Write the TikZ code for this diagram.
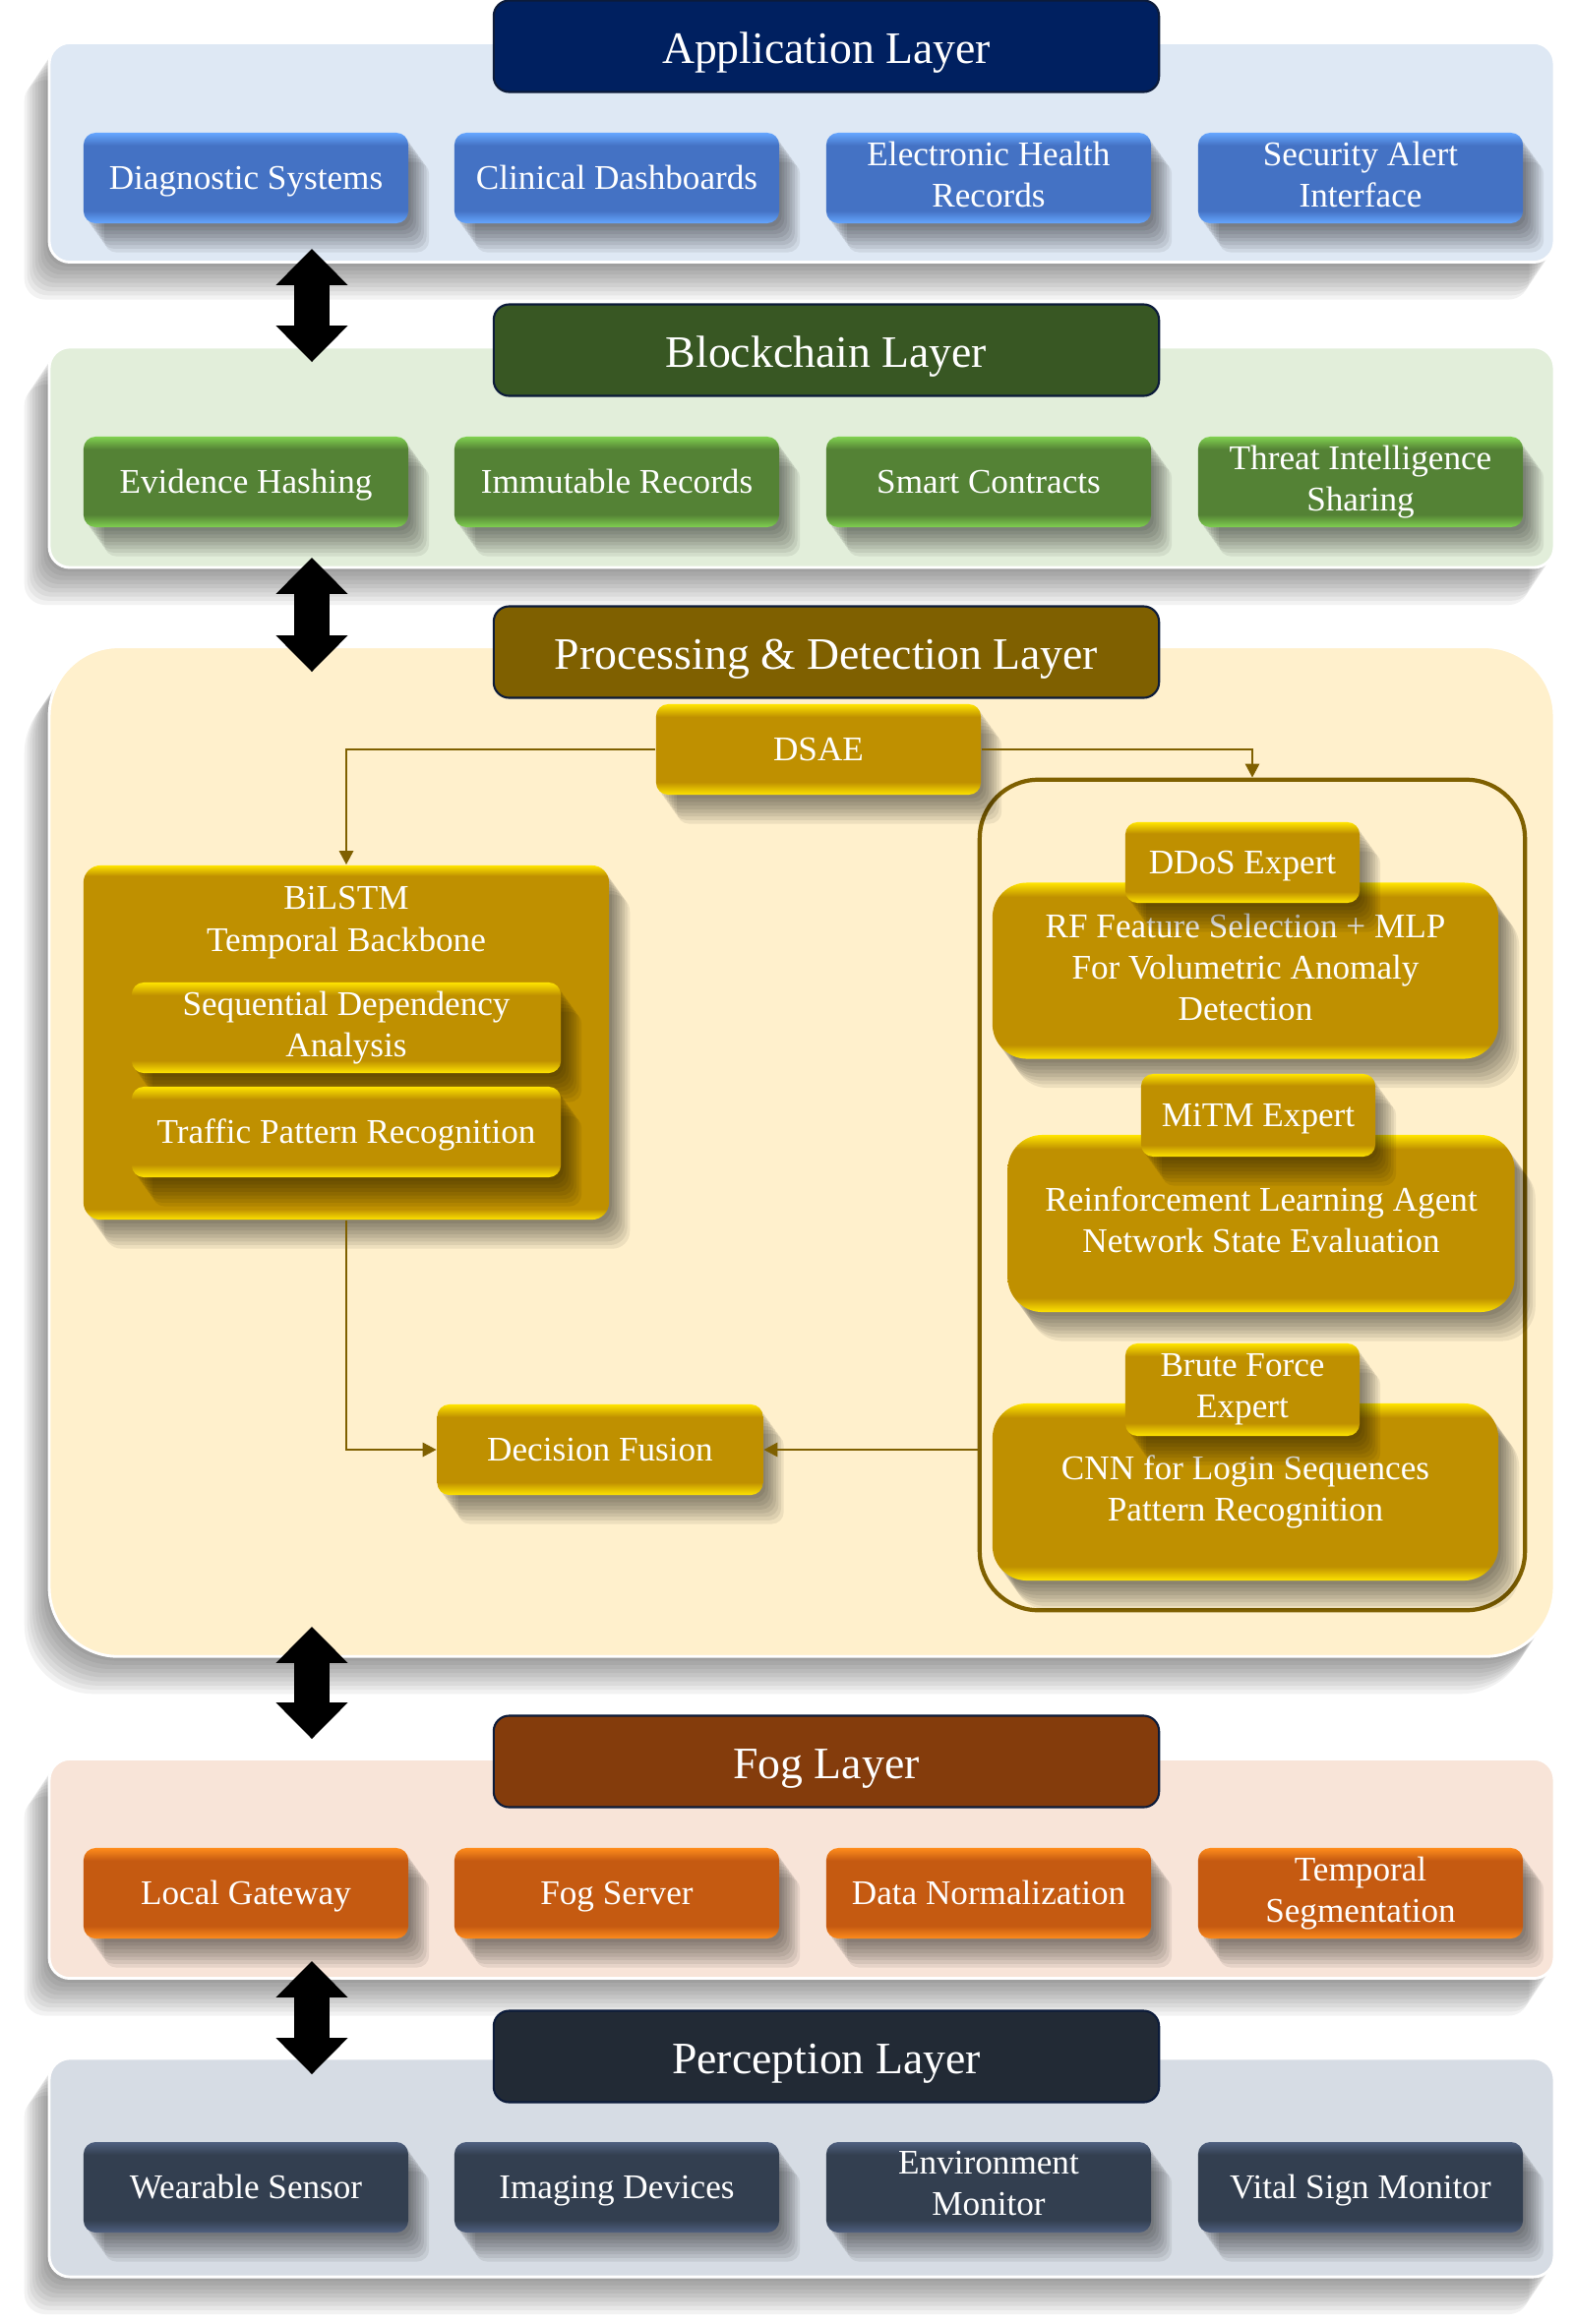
\documentclass[tikz,border=0pt]{standalone}
\usepackage{fontspec}
\setmainfont{Liberation Serif}
\usetikzlibrary{arrows.meta,shadows}

\definecolor{apptitle}{HTML}{002060}
\definecolor{appback}{HTML}{DEE8F4}
\definecolor{appbox}{HTML}{4472C4}
\definecolor{appedge}{HTML}{66A6FF}
\definecolor{bcctitle}{HTML}{385723}
\definecolor{bccback}{HTML}{E2EEDA}
\definecolor{bccbox}{HTML}{548235}
\definecolor{bccedge}{HTML}{80D050}
\definecolor{proctitle}{HTML}{7F6000}
\definecolor{procback}{HTML}{FFF0CC}
\definecolor{procbox}{HTML}{BF9000}
\definecolor{procedge}{HTML}{FFE400}
\definecolor{fogtitle}{HTML}{843C0C}
\definecolor{fogback}{HTML}{F8E4D8}
\definecolor{fogbox}{HTML}{C55A11}
\definecolor{fogedge}{HTML}{FF8C1C}
\definecolor{pertitle}{HTML}{222A35}
\definecolor{perback}{HTML}{D6DCE4}
\definecolor{perbox}{HTML}{333F50}
\definecolor{peredge}{HTML}{4F6080}
\definecolor{titleline}{HTML}{0C1B3A}
\colorlet{glosstop}{appedge}
\colorlet{glossmid}{appbox}

\pgfdeclareverticalshading[glosstop,glossmid]{gloss}{100bp}{color(0bp)=(glosstop); color(25bp)=(glosstop); color(32bp)=(glossmid); color(68bp)=(glossmid); color(75bp)=(glosstop); color(100bp)=(glosstop)}
\pgfdeclareverticalshading[glosstop,glossmid]{glossmed}{100bp}{color(0bp)=(glosstop); color(25bp)=(glosstop); color(29bp)=(glossmid); color(71bp)=(glossmid); color(75bp)=(glosstop); color(100bp)=(glosstop)}
\pgfdeclareverticalshading[glosstop,glossmid]{glosstall}{100bp}{color(0bp)=(glosstop); color(25bp)=(glosstop); color(26.5bp)=(glossmid); color(73.5bp)=(glossmid); color(75bp)=(glosstop); color(100bp)=(glosstop)}

\tikzset{
  glossy/.style 2 args={/utils/exec={\colorlet{glosstop}{#1}\colorlet{glossmid}{#2}}, shading=gloss},
  boxstep/.style={general shadow={fill=black, opacity=0.07, shadow xshift=#1*0.75pt, shadow yshift=-#1*1.05pt}},
  panelstep/.style={general shadow={fill=black, opacity=0.05, shadow xshift=-#1*0.8pt, shadow yshift=-#1*1.2pt}},
  layerpanel/.style={rounded corners=6pt, draw=white, line width=0.8pt, minimum width=15.29cm,
    panelstep/.list={1,...,9}},
  layertitle/.style={rounded corners=4.5pt, draw=titleline, line width=0.6pt, minimum width=6.76cm,
    minimum height=0.93cm, inner sep=0pt, text height=10pt, text depth=0pt, text=white,
    font=\fontsize{13}{15}\selectfont},
  unitbox/.style={rounded corners=3.5pt, minimum width=3.3cm, minimum height=0.92cm, inner sep=0pt,
    text=white, align=center, boxstep/.list={1,...,8},
    execute at begin node={\rule{0pt}{9pt}}, execute at end node={\rule[-2.2pt]{0pt}{0pt}}},
  flow/.style={draw=proctitle, line width=0.8pt, -{Triangle[length=4pt,width=4pt]}},
  bigarrow/.style={draw=black, line width=10.5pt,
    {Triangle[width=20.8pt,length=10.5pt,line width=0pt]}-{Triangle[width=20.8pt,length=10.5pt,line width=0pt]}}
}

\begin{document}
\begin{tikzpicture}[x=0.01cm, y=-0.01cm, font=\fontsize{10}{12}\selectfont]
  \useasboundingbox (0,0) rectangle (1600,2363);

  \node[layerpanel, fill=appback, minimum height=2.23cm] (apppanel) at (815,155) {};
  \node[layerpanel, fill=bccback, minimum height=2.24cm] (bccpanel) at (815,465) {};
  \node[layerpanel, fill=procback, minimum height=10.26cm, rounded corners=20pt] (procpanel) at (815,1171) {};
  \node[layerpanel, fill=fogback, minimum height=2.23cm] (fogpanel) at (815,1900) {};
  \node[layerpanel, fill=perback, minimum height=2.22cm] (perpanel) at (815,2204) {};

  \node[layertitle, fill=apptitle] (app) at (840,47) {Application Layer};
  \node[layertitle, fill=bcctitle] (bcc) at (840,356) {Blockchain Layer};
  \node[layertitle, fill=proctitle] (proc) at (840,663) {Processing \& Detection Layer};
  \node[layertitle, fill=fogtitle] (fog) at (840,1791) {Fog Layer};
  \node[layertitle, fill=pertitle] (per) at (840,2091) {Perception Layer};

  \begin{scope}[every node/.append style={unitbox, glossy={appedge}{appbox}}]
    \node (app1) at (250,181) {Diagnostic Systems};
    \node (app2) at (627,181) {Clinical Dashboards};
    \node (app3) at (1005,181) {Electronic Health\\Records};
    \node (app4) at (1383,181) {Security Alert\\Interface};
  \end{scope}
  \begin{scope}[every node/.append style={unitbox, glossy={bccedge}{bccbox}}]
    \node (bcc1) at (250,490) {Evidence Hashing};
    \node (bcc2) at (627,490) {Immutable Records};
    \node (bcc3) at (1005,490) {Smart Contracts};
    \node (bcc4) at (1383,490) {Threat Intelligence\\Sharing};
  \end{scope}
  \begin{scope}[every node/.append style={unitbox, glossy={fogedge}{fogbox}}]
    \node (fog1) at (250,1925) {Local Gateway};
    \node (fog2) at (627,1925) {Fog Server};
    \node (fog3) at (1005,1925) {Data Normalization};
    \node (fog4) at (1383,1925) {Temporal\\Segmentation};
  \end{scope}
  \begin{scope}[every node/.append style={unitbox, glossy={peredge}{perbox}}]
    \node (per1) at (250,2224) {Wearable Sensor};
    \node (per2) at (627,2224) {Imaging Devices};
    \node (per3) at (1005,2224) {Environment\\Monitor};
    \node (per4) at (1383,2224) {Vital Sign Monitor};
  \end{scope}

  \node[draw=proctitle, line width=1.2pt, rounded corners=17pt, minimum width=5.54cm,
    minimum height=8.44cm] (experts) at (1273,1215) {};
  \node[unitbox, glossy={procedge}{procbox}, shading=glosstall, minimum width=5.34cm,
    minimum height=3.6cm, rounded corners=5pt,
    label={[anchor=north, yshift=-0.1cm, text=white, align=center]north:BiLSTM\\Temporal Backbone}]
    (bilstm) at (352,1060) {};
  \begin{scope}[every node/.append style={unitbox, glossy={procedge}{procbox}}]
    \node (dsae) at (832,762) {DSAE};
    \node[minimum width=4.36cm] (seq) at (352,1045) {Sequential Dependency\\Analysis};
    \node[minimum width=4.36cm] (traffic) at (352,1151) {Traffic Pattern Recognition};
    \node[minimum width=3.31cm] (fusion) at (610,1474) {Decision Fusion};
    \node[shading=glossmed, rounded corners=10pt, minimum width=5.14cm, minimum height=1.79cm]
      (ddos) at (1266,987) {RF Feature Selection + MLP\\For Volumetric Anomaly\\Detection};
    \node[minimum width=2.38cm, minimum height=0.82cm] (ddostab) at (1263,877) {DDoS Expert};
    \node[shading=glossmed, rounded corners=10pt, minimum width=5.15cm, minimum height=1.8cm]
      (mitm) at (1282,1244) {Reinforcement Learning Agent\\Network State Evaluation};
    \node[minimum width=2.38cm, minimum height=0.84cm] (mitmtab) at (1279,1134) {MiTM Expert};
    \node[shading=glossmed, rounded corners=10pt, minimum width=5.14cm, minimum height=1.8cm]
      (brute) at (1266,1517) {CNN for Login Sequences\\Pattern Recognition};
    \node[minimum width=2.38cm, minimum height=0.94cm] (brutetab) at (1263,1413) {Brute Force\\Expert};
  \end{scope}

  \begin{scope}[flow]
    \draw (dsae.west) -| (bilstm.north);
    \draw (dsae.east) -| (experts.north);
    \draw (bilstm.south) |- (fusion.west);
    \draw (experts.west |- fusion.east) -- (fusion.east);
  \end{scope}

  \coordinate (up1) at (317,253);  \coordinate (dn1) at (317,368);
  \coordinate (up2) at (317,567);  \coordinate (dn2) at (317,683);
  \coordinate (up3) at (317,1654); \coordinate (dn3) at (317,1768);
  \coordinate (up4) at (317,1994); \coordinate (dn4) at (317,2109);
  \draw[bigarrow] (up1) -- (dn1);
  \draw[bigarrow] (up2) -- (dn2);
  \draw[bigarrow] (up3) -- (dn3);
  \draw[bigarrow] (up4) -- (dn4);
\end{tikzpicture}
\end{document}
